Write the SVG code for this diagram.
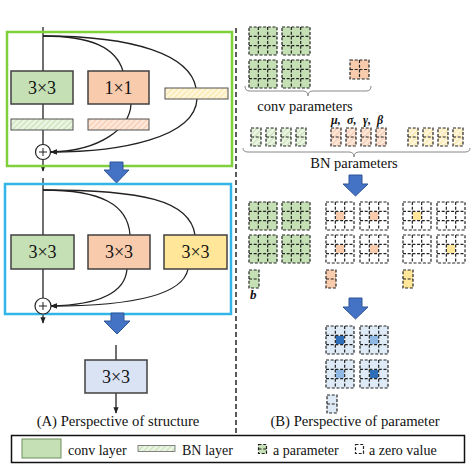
<svg xmlns="http://www.w3.org/2000/svg" xmlns:xlink="http://www.w3.org/1999/xlink" width="474" height="469" viewBox="0 0 474 469">
<style>
.t{font-family:"Liberation Serif","Times New Roman",serif;fill:#111}
.box{stroke:#404040;stroke-width:1.5}
.bn{stroke:#505050;stroke-width:1}
.ln{fill:none;stroke:#222;stroke-width:1.3}
.dg{stroke:#222;stroke-width:1.2;stroke-dasharray:3,1.7}
.brace{fill:none;stroke:#888;stroke-width:1}
.big{fill:#4472c4;stroke:#2f5597;stroke-width:1}
</style>
<defs>
<pattern id="hg" width="4" height="4" patternUnits="userSpaceOnUse" patternTransform="rotate(45)"><rect width="4" height="4" fill="#eaf4e2"/><line x1="0" y1="0" x2="0" y2="4" stroke="#b3d69b" stroke-width="1.3"/></pattern>
<pattern id="ho" width="4" height="4" patternUnits="userSpaceOnUse" patternTransform="rotate(45)"><rect width="4" height="4" fill="#fce6d8"/><line x1="0" y1="0" x2="0" y2="4" stroke="#f4b996" stroke-width="1.3"/></pattern>
<pattern id="hy" width="4" height="4" patternUnits="userSpaceOnUse" patternTransform="rotate(45)"><rect width="4" height="4" fill="#fff6da"/><line x1="0" y1="0" x2="0" y2="4" stroke="#f5dc88" stroke-width="1.3"/></pattern>
<marker id="ah" viewBox="0 0 10 10" refX="9" refY="5" markerWidth="5" markerHeight="5" orient="auto"><path d="M0,1 L10,5 L0,9 z" fill="#222"/></marker>
<g id="g3" class="dg"><rect x="0" y="0" width="28" height="28"/><path d="M9.33,0V28M18.67,0V28M0,9.33H28M0,18.67H28" fill="none"/></g>
<g id="g2" class="dg"><rect x="0" y="0" width="19" height="19"/><path d="M9.5,0V19M0,9.5H19" fill="none"/></g>
<g id="b2" class="dg"><rect x="0" y="0" width="10" height="18"/><path d="M0,9H10" fill="none"/></g>
</defs>
<rect width="474" height="469" fill="#fff"/>

<!-- divider -->
<line x1="236" y1="28" x2="236" y2="434" stroke="#333" stroke-width="1.6" stroke-dasharray="5,3"/>

<g id="connectors">
<!-- block 1 -->
<line class="ln" x1="43" y1="27" x2="43" y2="145"/>
<line class="ln" x1="43" y1="159" x2="43" y2="171" marker-end="url(#ah)"/>
<path class="ln" d="M43,36 C92,36 116,48 123,71"/>
<path class="ln" d="M43,36 C135,36 190,55 196,88"/>
<path class="ln" d="M131,104 C130,128 100,151 51,152" marker-end="url(#ah)"/>
<path class="ln" d="M197,99 C195,138 120,152 51,152" marker-end="url(#ah)"/>
<!-- block 2 -->
<line class="ln" x1="43" y1="178" x2="43" y2="298"/>
<line class="ln" x1="43" y1="314" x2="43" y2="323" marker-end="url(#ah)"/>
<path class="ln" d="M43,190 C102,190 128,205 130,235"/>
<path class="ln" d="M43,190 C142,190 190,200 195,235"/>
<path class="ln" d="M127,269 C125,296 92,305 51,306" marker-end="url(#ah)"/>
<path class="ln" d="M188,269 C182,300 112,306 51,306" marker-end="url(#ah)"/>
<!-- block 3 -->
<line class="ln" x1="116" y1="345" x2="116" y2="360"/>
<line class="ln" x1="116" y1="393" x2="116" y2="413" marker-end="url(#ah)"/>
</g>

<g id="block1">
<rect x="7" y="32" width="225" height="134" fill="none" stroke="#7fd13b" stroke-width="2.5"/>
<rect class="box" x="11" y="71" width="62" height="33" fill="#c5e0b4"/>
<text class="t" x="42" y="94" font-size="18" text-anchor="middle">3×3</text>
<rect class="box" x="88" y="71" width="61" height="33" fill="#f8cbad"/>
<text class="t" x="118.5" y="94" font-size="18" text-anchor="middle">1×1</text>
<rect class="bn" x="165" y="88" width="63" height="11" fill="url(#hy)"/>
<rect class="bn" x="11" y="119" width="62" height="11" fill="url(#hg)"/>
<rect class="bn" x="88" y="119" width="61" height="11" fill="url(#ho)"/>
<circle cx="43" cy="152" r="7.5" fill="#fff" stroke="#222" stroke-width="1.2"/>
<path d="M39,152H47M43,148V156" stroke="#222" stroke-width="1"/>
</g>

<path id="arrow1" class="big" d="M110,162 H123 V170 H129 L116.5,183 L104,170 H110 Z"/>

<g id="block2">
<rect x="5" y="184" width="226" height="130" fill="none" stroke="#33b5e8" stroke-width="2.5"/>
<rect class="box" x="11" y="235" width="63" height="34" fill="#c5e0b4"/>
<text class="t" x="42.5" y="258" font-size="18" text-anchor="middle">3×3</text>
<rect class="box" x="88" y="235" width="62" height="34" fill="#f8cbad"/>
<text class="t" x="119" y="258" font-size="18" text-anchor="middle">3×3</text>
<rect class="box" x="164" y="235" width="63" height="34" fill="#ffe699"/>
<text class="t" x="195.5" y="258" font-size="18" text-anchor="middle">3×3</text>
<circle cx="43" cy="306" r="8" fill="#fff" stroke="#222" stroke-width="1.2"/>
<path d="M39,306H47M43,302V310" stroke="#222" stroke-width="1"/>
</g>

<path id="arrow2" class="big" d="M111,313 H124 V321 H130 L117,334 L104,321 H111 Z"/>

<g id="block3">
<rect class="box" x="85" y="360" width="62" height="33" fill="#dae3f3"/>
<text class="t" x="116" y="383" font-size="18" text-anchor="middle">3×3</text>
</g>

<text class="t" x="118" y="426" font-size="14.7" text-anchor="middle">(A) Perspective of structure</text>

<!-- right panel: conv parameters -->
<g id="conv-params">
<use xlink:href="#g3" x="249" y="27" fill="#c5e0b4"/>
<use xlink:href="#g3" x="282" y="27" fill="#c5e0b4"/>
<use xlink:href="#g3" x="249" y="60" fill="#c5e0b4"/>
<use xlink:href="#g3" x="282" y="60" fill="#c5e0b4"/>
<use xlink:href="#g2" x="350" y="60" fill="#f8cbad"/>
<path class="brace" d="M245,86 Q245,91 250,91 L303,91 Q308,91 308,96 Q308,91 313,91 L366,91 Q371,91 371,86"/>
<text class="t" x="305" y="111" font-size="14.5" text-anchor="middle">conv parameters</text>
</g>

<g id="bn-params">
<use xlink:href="#b2" x="251" y="128" fill="url(#hg)"/>
<use xlink:href="#b2" x="266" y="128" fill="url(#hg)"/>
<use xlink:href="#b2" x="281" y="128" fill="url(#hg)"/>
<use xlink:href="#b2" x="296" y="128" fill="url(#hg)"/>
<use xlink:href="#b2" x="331" y="128" fill="url(#ho)"/>
<use xlink:href="#b2" x="346" y="128" fill="url(#ho)"/>
<use xlink:href="#b2" x="361" y="128" fill="url(#ho)"/>
<use xlink:href="#b2" x="376" y="128" fill="url(#ho)"/>
<use xlink:href="#b2" x="408" y="128" fill="url(#hy)"/>
<use xlink:href="#b2" x="423" y="128" fill="url(#hy)"/>
<use xlink:href="#b2" x="438" y="128" fill="url(#hy)"/>
<use xlink:href="#b2" x="453" y="128" fill="url(#hy)"/>
<text class="t" x="331" y="124" font-size="12" font-weight="bold" font-style="italic">μ,</text>
<text class="t" x="347" y="124" font-size="12" font-weight="bold" font-style="italic">σ,</text>
<text class="t" x="363" y="124" font-size="12" font-weight="bold" font-style="italic">γ,</text>
<text class="t" x="377" y="124" font-size="12" font-weight="bold" font-style="italic">β</text>
<path class="brace" d="M243,148 Q243,152 248,152 L349,152 Q354,152 354,157 Q354,152 359,152 L465,152 Q470,152 470,148"/>
<text class="t" x="354" y="168" font-size="14.5" text-anchor="middle">BN parameters</text>
</g>

<path id="arrow3" class="big" d="M349,175 H362 V184 H368 L355.5,196 L343,184 H349 Z"/>

<g id="fused-params">
<use xlink:href="#g3" x="249" y="202" fill="#c5e0b4"/>
<use xlink:href="#g3" x="282" y="202" fill="#c5e0b4"/>
<use xlink:href="#g3" x="249" y="235" fill="#c5e0b4"/>
<use xlink:href="#g3" x="282" y="235" fill="#c5e0b4"/>
<use xlink:href="#b2" x="249" y="270" fill="#c5e0b4"/>
<text class="t" x="250" y="299" font-size="13" font-weight="bold" font-style="italic">b</text>

<g fill="#f8cbad">
<rect x="336" y="212" width="8" height="8"/><rect x="370" y="212" width="8" height="8"/>
<rect x="336" y="245" width="8" height="8"/><rect x="370" y="245" width="8" height="8"/>
</g>
<use xlink:href="#g3" x="326" y="202" fill="none"/>
<use xlink:href="#g3" x="360" y="202" fill="none"/>
<use xlink:href="#g3" x="326" y="235" fill="none"/>
<use xlink:href="#g3" x="360" y="235" fill="none"/>
<use xlink:href="#b2" x="326" y="270" fill="#f8cbad"/>

<g fill="#ffe699">
<rect x="413" y="212" width="8" height="8"/><rect x="447" y="245" width="8" height="8"/>
</g>
<use xlink:href="#g3" x="403" y="202" fill="none"/>
<use xlink:href="#g3" x="437" y="202" fill="none"/>
<use xlink:href="#g3" x="403" y="235" fill="none"/>
<use xlink:href="#g3" x="437" y="235" fill="none"/>
<use xlink:href="#b2" x="403" y="270" fill="#ffe699"/>
</g>

<path id="arrow4" class="big" d="M349,298 H362 V307 H368 L355.5,319 L343,307 H349 Z"/>

<g id="final-params">
<rect x="326" y="326" width="28" height="28" fill="#deebf7"/>
<rect x="360" y="326" width="28" height="28" fill="#deebf7"/>
<rect x="326" y="360" width="28" height="28" fill="#deebf7"/>
<rect x="360" y="360" width="28" height="28" fill="#deebf7"/>
<rect x="336" y="336" width="8" height="8" fill="#2e6db8"/>
<rect x="370" y="336" width="8" height="8" fill="#8fb8e4"/>
<rect x="336" y="370" width="8" height="8" fill="#8fb8e4"/>
<rect x="370" y="370" width="8" height="8" fill="#2e6db8"/>
<use xlink:href="#g3" x="326" y="326" fill="none"/>
<use xlink:href="#g3" x="360" y="326" fill="none"/>
<use xlink:href="#g3" x="326" y="360" fill="none"/>
<use xlink:href="#g3" x="360" y="360" fill="none"/>
<use xlink:href="#b2" x="327" y="395" fill="#deebf7"/>
</g>

<text class="t" x="355" y="426" font-size="14.7" text-anchor="middle">(B) Perspective of parameter</text>

<g id="legend">
<rect x="11.5" y="435.5" width="453" height="27" fill="#fff" stroke="#111" stroke-width="1.5"/>
<rect x="22" y="439" width="39" height="19" fill="#c5e0b4" stroke="#6f8f5f" stroke-width="1"/>
<text class="t" x="68" y="455" font-size="14">conv layer</text>
<rect x="138" y="445.5" width="37" height="6" fill="url(#hg)" stroke="#666" stroke-width="0.8"/>
<text class="t" x="182" y="455" font-size="14">BN layer</text>
<rect x="258.5" y="444.5" width="8" height="9" fill="#c5e0b4" class="dg"/>
<path d="M258.5,449H266.5" class="dg"/>
<text class="t" x="273" y="455" font-size="14">a parameter</text>
<rect x="355.5" y="444.5" width="8" height="9" fill="none" class="dg"/>
<text class="t" x="369" y="455" font-size="14">a zero value</text>
</g>
</svg>
